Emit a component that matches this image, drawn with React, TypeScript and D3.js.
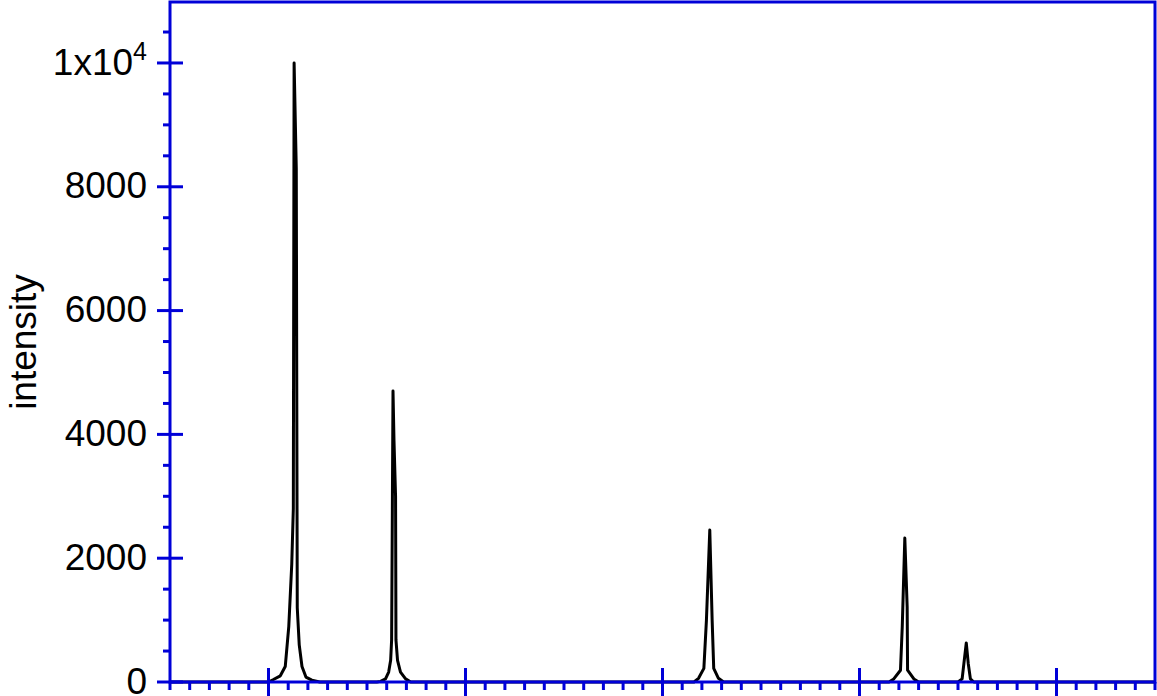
import React, { useEffect, useRef } from 'react';
import * as d3 from 'd3';

// spectrum samples (x in axis units, intensity in counts)
const shift = [
  50, 100, 102.5, 106, 108.5, 110.3, 111.8, 112.6, 113.0, 114.1, 114.6, 115.6, 117, 119, 122, 126,
  155, 156.9, 159.4, 161.0, 162.0, 162.5, 163.2, 163.7, 164.5, 164.7, 165.5, 167.0, 169.6, 172.2,
  316, 318.3, 321.0, 322.3, 324.0, 325.2, 326.0, 328.4, 331,
  415, 417.4, 420.8, 421.7, 423.0, 424.2, 424.4, 427.6, 430,
  450, 452.1, 453.0, 454.2, 455.2, 456.3, 458,
  550,
];
const intensity = [
  0, 0, 40, 100, 250, 900, 1900, 2800, 10000, 8300, 1200, 600, 250, 80, 30, 0,
  0, 10, 50, 160, 350, 680, 4700, 3900, 3000, 680, 350, 160, 50, 0,
  0, 60, 220, 1000, 2455, 1000, 220, 60, 0,
  0, 50, 190, 890, 2326, 1210, 190, 50, 0,
  0, 50, 300, 630, 300, 50, 0,
  0,
];

const yMajor = [0, 2000, 4000, 6000, 8000, 10000];
const yMinor = d3.range(0, 11000, 500);
const xMajor = [100, 200, 300, 400, 500];
const xMinor = d3.range(50, 551, 10);

const W = 1157;
const H = 696;
const plot = { left: 170, right: 1155, top: 2, bottom: 682 };
const AXIS = '#0000d8';
const FONT = '"Liberation Sans", Arial, Helvetica, sans-serif';

export default function App() {
  const svgRef = useRef<SVGSVGElement>(null);

  useEffect(() => {
    if (!svgRef.current) return;
    const svg = d3.select(svgRef.current);
    svg.selectAll('*').remove();

    const x = d3.scaleLinear().domain([50, 550]).range([plot.left, plot.right]);
    const y = d3.scaleLinear().domain([0, 10985]).range([plot.bottom, plot.top]);

    const pts = shift.map((s, i) => [s, intensity[i]] as [number, number]);

    // spectrum
    svg.append('path')
      .datum(pts)
      .attr('fill', 'none')
      .attr('stroke', '#000')
      .attr('stroke-width', 3)
      .attr('stroke-linejoin', 'round')
      .attr('d', d3.line<[number, number]>().x(d => x(d[0])).y(d => y(d[1])));

    const axis = svg.append('g').attr('stroke', AXIS).attr('stroke-width', 3);

    // frame
    axis.append('rect')
      .attr('x', plot.left)
      .attr('y', plot.top)
      .attr('width', plot.right - plot.left)
      .attr('height', plot.bottom - plot.top)
      .attr('fill', 'none');

    // y ticks
    axis.selectAll('.ymin')
      .data(yMinor.filter(v => !yMajor.includes(v)))
      .join('line')
      .attr('x1', plot.left - 7).attr('x2', plot.left)
      .attr('y1', d => y(d)).attr('y2', d => y(d));
    axis.selectAll('.ymaj')
      .data(yMajor)
      .join('line')
      .attr('x1', plot.left - 13).attr('x2', plot.left + 13)
      .attr('y1', d => y(d)).attr('y2', d => y(d));

    // x ticks
    axis.selectAll('.xmin')
      .data(xMinor.filter(v => !xMajor.includes(v)))
      .join('line')
      .attr('x1', d => x(d)).attr('x2', d => x(d))
      .attr('y1', plot.bottom).attr('y2', plot.bottom + 8);
    axis.selectAll('.xmaj')
      .data(xMajor)
      .join('line')
      .attr('x1', d => x(d)).attr('x2', d => x(d))
      .attr('y1', plot.bottom - 14).attr('y2', plot.bottom + 14);

    // y tick labels
    const labels = svg.append('g')
      .attr('font-family', FONT)
      .attr('font-size', 37)
      .attr('fill', '#000')
      .attr('text-anchor', 'end');
    yMajor.forEach(v => {
      const t = labels.append('text')
        .attr('x', plot.left - 23)
        .attr('y', y(v) - 1)
        .attr('dy', '0.34em');
      if (v === 10000) {
        t.append('tspan').text('1x10');
        t.append('tspan').attr('font-size', 25).attr('dy', '-0.6em').text('4');
      } else {
        t.text(String(v));
      }
    });

    // y axis title
    svg.append('text')
      .attr('transform', `translate(36,${(plot.top + plot.bottom) / 2}) rotate(-90)`)
      .attr('text-anchor', 'middle')
      .attr('font-family', FONT)
      .attr('font-size', 37)
      .text('intensity');
  }, []);

  return (
    <svg
      ref={svgRef}
      width={W}
      height={H}
      style={{ position: 'absolute', left: 0, top: 0, background: '#fff' }}
    />
  );
}
